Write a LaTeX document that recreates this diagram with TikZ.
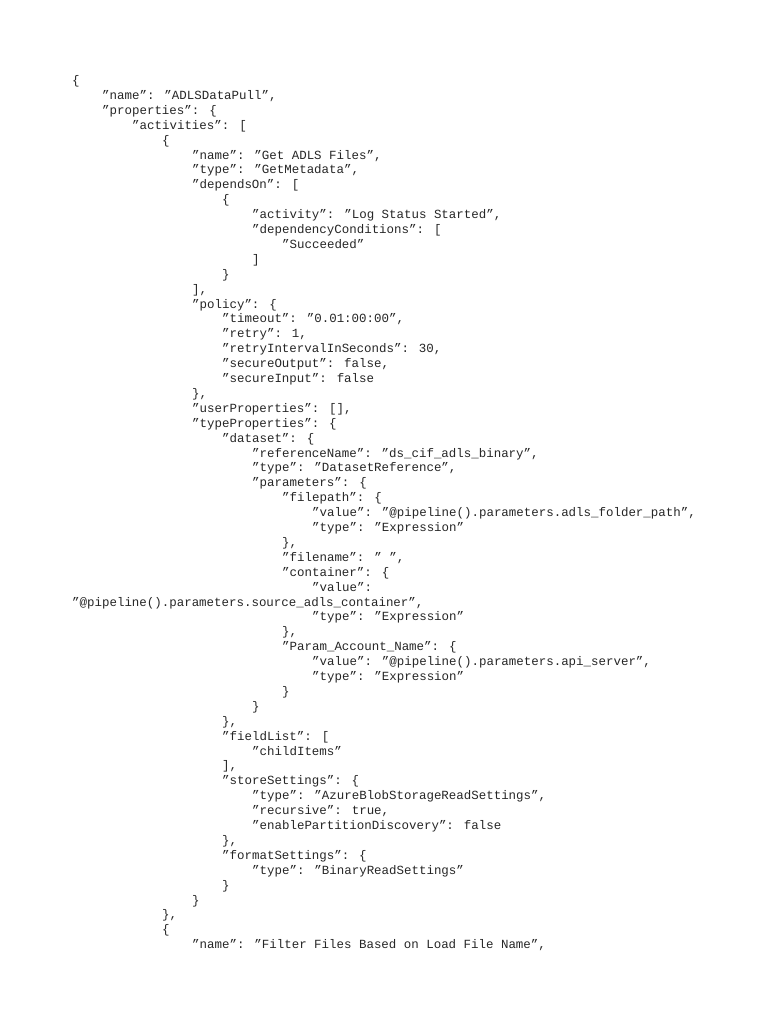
\documentclass[tikz,border=0pt]{standalone}
\usepackage{fontspec}
\setmainfont{Liberation Mono}
\newcommand\jl[3]{\node[txt] (l#2) at ({72+30*#1}, {-(84.5+14.9*(#2-1))}) {#3};}
\begin{document}
\begin{tikzpicture}[x=1bp,y=1bp,txt/.style={anchor=base west,inner sep=0pt,font=\fontsize{12.5}{15}\selectfont,text=black!85}]
\useasboundingbox (0,0) rectangle (768,-1024);
\jl{0}{1}{\{}
\jl{1}{2}{"name": "ADLSDataPull",}
\jl{1}{3}{"properties": \{}
\jl{2}{4}{"activities": [}
\jl{3}{5}{\{}
\jl{4}{6}{"name": "Get ADLS Files",}
\jl{4}{7}{"type": "GetMetadata",}
\jl{4}{8}{"dependsOn": [}
\jl{5}{9}{\{}
\jl{6}{10}{"activity": "Log Status Started",}
\jl{6}{11}{"dependencyConditions": [}
\jl{7}{12}{"Succeeded"}
\jl{6}{13}{]}
\jl{5}{14}{\}}
\jl{4}{15}{],}
\jl{4}{16}{"policy": \{}
\jl{5}{17}{"timeout": "0.01:00:00",}
\jl{5}{18}{"retry": 1,}
\jl{5}{19}{"retryIntervalInSeconds": 30,}
\jl{5}{20}{"secureOutput": false,}
\jl{5}{21}{"secureInput": false}
\jl{4}{22}{\},}
\jl{4}{23}{"userProperties": [],}
\jl{4}{24}{"typeProperties": \{}
\jl{5}{25}{"dataset": \{}
\jl{6}{26}{"referenceName": "ds\_cif\_adls\_binary",}
\jl{6}{27}{"type": "DatasetReference",}
\jl{6}{28}{"parameters": \{}
\jl{7}{29}{"filepath": \{}
\jl{8}{30}{"value": "@pipeline().parameters.adls\_folder\_path",}
\jl{8}{31}{"type": "Expression"}
\jl{7}{32}{\},}
\jl{7}{33}{"filename": " ",}
\jl{7}{34}{"container": \{}
\jl{8}{35}{"value":}
\jl{0}{36}{"@pipeline().parameters.source\_adls\_container",}
\jl{8}{37}{"type": "Expression"}
\jl{7}{38}{\},}
\jl{7}{39}{"Param\_Account\_Name": \{}
\jl{8}{40}{"value": "@pipeline().parameters.api\_server",}
\jl{8}{41}{"type": "Expression"}
\jl{7}{42}{\}}
\jl{6}{43}{\}}
\jl{5}{44}{\},}
\jl{5}{45}{"fieldList": [}
\jl{6}{46}{"childItems"}
\jl{5}{47}{],}
\jl{5}{48}{"storeSettings": \{}
\jl{6}{49}{"type": "AzureBlobStorageReadSettings",}
\jl{6}{50}{"recursive": true,}
\jl{6}{51}{"enablePartitionDiscovery": false}
\jl{5}{52}{\},}
\jl{5}{53}{"formatSettings": \{}
\jl{6}{54}{"type": "BinaryReadSettings"}
\jl{5}{55}{\}}
\jl{4}{56}{\}}
\jl{3}{57}{\},}
\jl{3}{58}{\{}
\jl{4}{59}{"name": "Filter Files Based on Load File Name",}
\end{tikzpicture}
\end{document}
